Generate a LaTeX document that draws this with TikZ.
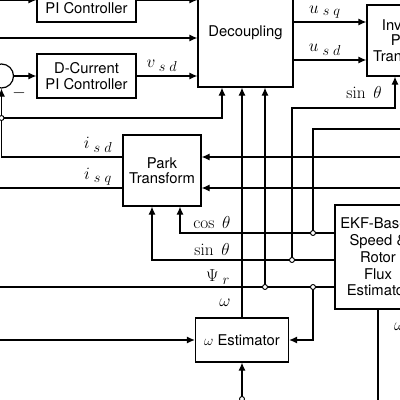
\documentclass[tikz,border=0pt]{standalone}
\usepackage[no-math]{fontspec}
\setmainfont{TeX Gyre Heros}
\usetikzlibrary{arrows.meta,calc}
\newcommand{\sbs}[1]{_{\hbox{\fontsize{14}{14}\selectfont$\;#1$}}}
\begin{document}
\begin{tikzpicture}[x=1pt,y=-1pt,
  every node/.style={font=\fontsize{14.8}{15.5}\selectfont},
  blk/.style={draw,line width=1.2pt,align=center,inner sep=0pt},
  ln/.style={line width=1.2pt},
  arr/.style={line width=1.2pt,-{Latex[length=8pt,width=7pt]}},
  jdot/.style={circle,draw,fill=white,line width=0.9pt,minimum size=5pt,inner sep=0pt},
  lbl/.style={inner sep=0pt,font=\fontsize{17.28}{20}\selectfont}]
\useasboundingbox (0,0) rectangle (400,400);
\clip (0,0) rectangle (400,400);
% blocks
\node[blk,minimum width=99pt,minimum height=44pt] (qpi) at (86.5,0) {Q-Current\\PI Controller};
\node[blk,minimum width=99pt,minimum height=44pt] (dpi) at (86.5,76) {D-Current\\PI Controller};
\node[blk,minimum width=95pt,minimum height=108pt] (dec) at (245.5,33) {Decoupling};
\node[blk,minimum width=78pt,minimum height=71pt] (park) at (162,170.5) {Park\\Transform};
\node[blk,minimum width=78pt,minimum height=71pt] (inv) at (406,40.5) {Inverse\\Park\\Transform};
\node[blk,minimum width=86pt,minimum height=104pt,font=\fontsize{14.8}{16.8}\selectfont] (ekf) at (378,257) {EKF-Based\\Speed \&\\Rotor\\Flux\\Estimator};
\node[blk,minimum width=93pt,minimum height=44pt] (west) at (242,340) {$\omega$ Estimator};
\node[circle,draw,line width=1.2pt,minimum size=24pt,inner sep=0pt] (sum) at (1.5,76) {};
% coordinates
\coordinate (inq) at (-5,0);
\coordinate (w1) at (-5,38);
\coordinate (uq) at (0,22);
\coordinate (ud) at (0,60);
\coordinate (isd) at (0,157);
\coordinate (isq) at (0,188);
\coordinate (isdc) at (1.5,157);
\coordinate (dj) at (1.5,118);
\coordinate (xa) at (222,118);
\coordinate (isqe) at (-5,188);
\coordinate (ra) at (410,157);
\coordinate (rb) at (410,188);
\coordinate (cy) at (0,233);
\coordinate (c1) at (180,233);
\coordinate (cd) at (313,233);
\coordinate (c2) at (313,129);
\coordinate (c3) at (410,129);
\coordinate (sy) at (0,260);
\coordinate (s1) at (152,260);
\coordinate (sd) at (292,260);
\coordinate (s2) at (292,108);
\coordinate (s3) at (395,108);
\coordinate (py) at (0,287);
\coordinate (pe) at (-5,287);
\coordinate (pd1) at (265,287);
\coordinate (pd2) at (313,287);
\coordinate (p2) at (313,340);
\coordinate (wl) at (-5,340);
\coordinate (wb) at (242,405);
\coordinate (wbd) at (242,399);
\coordinate (eb) at (378,410);
% connectors
\draw[arr] (inq) -- (qpi.west);
\draw[arr] (qpi.east) -- (qpi.east -| dec.west);
\draw[arr] (w1) -- (w1 -| dec.west);
\draw[arr] (sum.east) -- (dpi.west);
\draw[arr] (dpi.east) -- (dpi.east -| dec.west);
\draw[arr] (uq -| dec.east) -- (uq -| inv.west);
\draw[arr] (ud -| dec.east) -- (ud -| inv.west);
\draw[arr] (isd -| park.west) -- (isdc) -- (sum.south);
\draw[arr] (dj) -- (xa) -- (xa |- dec.south);
\draw[ln] (isq -| park.west) -- (isqe);
\draw[arr] (ra) -- (ra -| park.east);
\draw[arr] (rb) -- (rb -| park.east);
\draw[arr] (cy -| ekf.west) -- (c1) -- (c1 |- park.south);
\draw[ln] (cd) -- (c2) -- (c3);
\draw[arr] (sy -| ekf.west) -- (s1) -- (s1 |- park.south);
\draw[arr] (sd) -- (s2) -- (s3) -- (s3 |- inv.south);
\draw[ln] (py -| ekf.west) -- (pe);
\draw[arr] (pd1) -- (pd1 |- dec.south);
\draw[arr] (pd2) -- (p2) -- (west.east);
\draw[arr] (west.north) -- (west.north |- dec.south);
\draw[arr] (wl) -- (west.west);
\draw[arr] (wb) -- (west.south);
\draw[ln] (ekf.south) -- (eb);
% junction dots
\node[jdot] at (dj) {};
\node[jdot] at (cd) {};
\node[jdot] at (sd) {};
\node[jdot] at (pd1) {};
\node[jdot] at (pd2) {};
\node[jdot] at (wbd) {};
% labels
\node[lbl] (lvsd) at (162,66) {$v\sbs{s\;d}$};
\node[lbl] (lusq) at (325,12) {$u\sbs{s\;q}$};
\node[lbl] (lusd) at (325,50) {$u\sbs{s\;d}$};
\node[lbl] (lsin1) at (364,92) {$\sin\;\theta$};
\node[lbl] (lisd) at (98,145) {$i\sbs{s\;d}$};
\node[lbl] (lisq) at (98,177) {$i\sbs{s\;q}$};
\node[lbl] (lcos) at (212,222) {$\cos\;\theta$};
\node[lbl] (lsin2) at (212,249) {$\sin\;\theta$};
\node[lbl] (lpsi) at (218,277) {$\Psi\sbs{r}$};
\node[lbl] (lom) at (225,303) {$\omega$};
\node[lbl] (lminus) at (19,93) {$-$};
\node[lbl,anchor=west] (lom2) at (394,327) {$\omega$};
\end{tikzpicture}
\end{document}
